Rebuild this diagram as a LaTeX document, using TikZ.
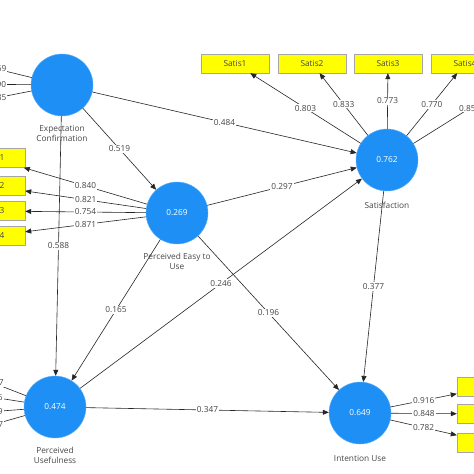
\documentclass[tikz,border=0pt]{standalone}
\usepackage{fontspec}
\setmainfont{Open Sans}
\usetikzlibrary{arrows.meta, positioning}
\definecolor{plsblue}{RGB}{30,144,245}
\definecolor{plsyellow}{RGB}{255,255,0}
\definecolor{plsgray}{RGB}{70,70,70}

\begin{document}
\begin{tikzpicture}[x=1pt, y=-1pt, font=\fontsize{8.3}{10}\selectfont,
        main/.style = {circle, fill=plsblue, draw=plsblue!70, minimum size=62pt, inner sep=0pt, text=white},
        item/.style = {rectangle, fill=plsyellow, draw=black!35, minimum width=68pt, minimum height=19pt, inner sep=0pt, text=plsgray},
        arr/.style = {draw=black!85, line width=0.6pt, -{Triangle[length=6pt,width=5pt]}},
        load/.style = {midway, fill=white, inner sep=1pt, text=plsgray},
        title/.style = {align=center, text=plsgray, inner sep=1pt}]

        \useasboundingbox (0,0) rectangle (474,474);
        \fill[white] (0,0) rectangle (474,474);
        \clip (0,0) rectangle (474,474);

        % constructs
        \node[main] (ec) at (62,85) {};
        \node[main] (peu) at (177,213) {0.269};
        \node[main] (sat) at (387,160) {0.762};
        \node[main] (pu) at (55,407) {0.474};
        \node[main] (iu) at (360,413) {0.649};

        \node[title, below=8pt of ec] (ectxt) {Expectation\\Confirmation};
        \node[title, below=8pt of peu] (peutxt) {Perceived Easy to\\Use};
        \node[title, below=10pt of sat] (sattxt) {Satisfaction};
        \node[title, below=8pt of pu] (putxt) {Perceived\\Usefulness};
        \node[title, below=10pt of iu] (iutxt) {Intention Use};

        % indicators
        \node[item] (s1) at (235,63.5) {Satis1};
        \node[item] (s2) at (312,63.5) {Satis2};
        \node[item] (s3) at (388,63.5) {Satis3};
        \node[item] (s4) at (465,63.5) {Satis4};
        \coordinate (s5) at (526,73);

        \node[item] (p1) at (-9,158) {PEOU1};
        \node[item] (p2) at (-9,186) {PEOU2};
        \node[item] (p3) at (-9,211) {PEOU3};
        \node[item] (p4) at (-9,236) {PEOU4};

        \node[item] (i1) at (491,387) {IU1};
        \node[item] (i2) at (491,414) {IU2};
        \node[item] (i3) at (491,443) {IU3};

        \coordinate (e1) at (-40,60);
        \coordinate (e2) at (-40,84);
        \coordinate (e3) at (-40,105);

        \coordinate (u1) at (-40,370);
        \coordinate (u2) at (-40,392);
        \coordinate (u3) at (-40,414);
        \coordinate (u4) at (-40,434);

        % loadings
        \draw[arr] (ec) -- (e1) node[load] {0.869};
        \draw[arr] (ec) -- (e2) node[load] {0.890};
        \draw[arr] (ec) -- (e3) node[load] {0.885};

        \draw[arr] (sat) -- (s1) node[load] {0.803};
        \draw[arr] (sat) -- (s2) node[load] {0.833};
        \draw[arr] (sat) -- (s3) node[load] {0.773};
        \draw[arr] (sat) -- (s4) node[load] {0.770};
        \draw[arr] (sat) -- (s5) node[load] {0.851};

        \draw[arr] (peu) -- (p1) node[load] {0.840};
        \draw[arr] (peu) -- (p2) node[load] {0.821};
        \draw[arr] (peu) -- (p3) node[load] {0.754};
        \draw[arr] (peu) -- (p4) node[load] {0.871};

        \draw[arr] (pu) -- (u1) node[load] {0.887};
        \draw[arr] (pu) -- (u2) node[load] {0.876};
        \draw[arr] (pu) -- (u3) node[load] {0.859};
        \draw[arr] (pu) -- (u4) node[load] {0.837};

        \draw[arr] (iu) -- (i1) node[load] {0.916};
        \draw[arr] (iu) -- (i2) node[load] {0.848};
        \draw[arr] (iu) -- (i3) node[load] {0.782};

        % paths
        \draw[arr] (ec) -- (peu) node[load] {0.519};
        \draw[arr] (ec) -- (sat) node[load] {0.484};
        \draw[arr] (ec) -- (pu) node[load] {0.588};
        \draw[arr] (peu) -- (sat) node[load] {0.297};
        \draw[arr] (peu) -- (pu) node[load] {0.165};
        \draw[arr] (pu) -- (sat) node[load] {0.246};
        \draw[arr] (peu) -- (iu) node[load] {0.196};
        \draw[arr] (sat) -- (iu) node[load] {0.377};
        \draw[arr] (pu) -- (iu) node[load] {0.347};

    \end{tikzpicture}
\end{document}
